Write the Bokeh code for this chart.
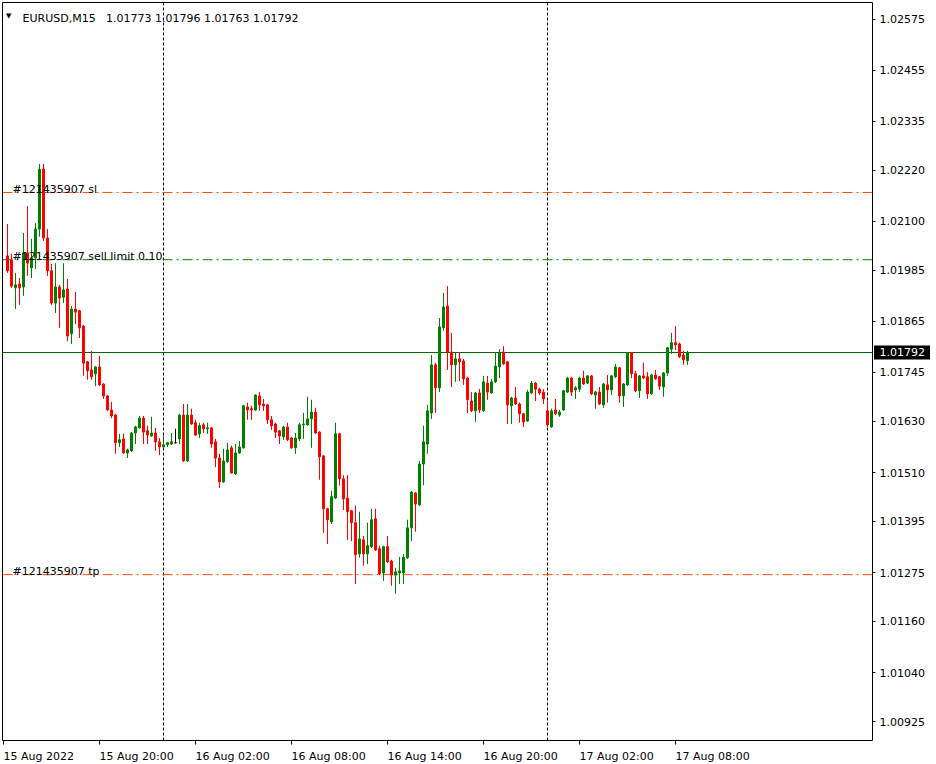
import pandas as pd
from bokeh.plotting import figure
from bokeh.models import (Range1d, FixedTicker, NumeralTickFormatter, Label, LinearAxis,
                          ColumnDataSource)
from bokeh.embed import file_html
from bokeh.resources import INLINE

# ---------------- data ----------------
symbol = "EURUSD"
timeframe = "M15"
first_bar_time = "2022-08-15 14:15"
bar_freq = "15min"

opens = [1.02019, 1.02009, 1.01944, 1.01953, 1.01946, 1.02026, 1.01991, 1.02014, 1.02082, 1.02223,
         1.02061, 1.01984, 1.01908, 1.01946, 1.01922, 1.01941, 1.01836, 1.01894, 1.01890, 1.01854,
         1.01770, 1.01751, 1.01742, 1.01758, 1.01718, 1.01690, 1.01657, 1.01645, 1.01580, 1.01589,
         1.01556, 1.01561, 1.01603, 1.01615, 1.01638, 1.01608, 1.01596, 1.01603, 1.01582, 1.01570,
         1.01575, 1.01577, 1.01580, 1.01589, 1.01645, 1.01537, 1.01645, 1.01627, 1.01601, 1.01622,
         1.01613, 1.01615, 1.01582, 1.01544, 1.01488, 1.01535, 1.01568, 1.01507, 1.01556, 1.01568,
         1.01664, 1.01660, 1.01657, 1.01690, 1.01671, 1.01669, 1.01634, 1.01624, 1.01608, 1.01594,
         1.01617, 1.01591, 1.01568, 1.01589, 1.01622, 1.01622, 1.01636, 1.01652, 1.01605, 1.01549,
         1.01425, 1.01394, 1.01450, 1.01601, 1.01495, 1.01450, 1.01420, 1.01392, 1.01319, 1.01352,
         1.01319, 1.01336, 1.01401, 1.01331, 1.01274, 1.01336, 1.01302, 1.01269, 1.01274, 1.01274,
         1.01310, 1.01380, 1.01462, 1.01434, 1.01530, 1.01577, 1.01650, 1.01763, 1.01709, 1.01850,
         1.01901, 1.01793, 1.01763, 1.01777, 1.01772, 1.01732, 1.01678, 1.01655, 1.01697, 1.01655,
         1.01720, 1.01697, 1.01723, 1.01758, 1.01793, 1.01770, 1.01667, 1.01685, 1.01671, 1.01648,
         1.01631, 1.01697, 1.01720, 1.01706, 1.01699, 1.01655, 1.01617, 1.01657, 1.01645, 1.01657,
         1.01699, 1.01732, 1.01704, 1.01706, 1.01732, 1.01720, 1.01737, 1.01692, 1.01699, 1.01669,
         1.01716, 1.01704, 1.01735, 1.01756, 1.01690, 1.01716, 1.01791, 1.01742, 1.01702, 1.01737,
         1.01735, 1.01695, 1.01739, 1.01735, 1.01711, 1.01744, 1.01800, 1.01815, 1.01812, 1.01786,
         1.01773]
highs = [1.02094, 1.02024, 1.01979, 1.01967, 1.02073, 1.02136, 1.02059, 1.02096, 1.02235, 1.02235,
         1.02082, 1.02000, 1.02002, 1.01951, 1.02002, 1.01965, 1.01901, 1.01934, 1.01892, 1.01857,
         1.01772, 1.01796, 1.01760, 1.01784, 1.01720, 1.01692, 1.01676, 1.01648, 1.01601, 1.01601,
         1.01566, 1.01605, 1.01620, 1.01643, 1.01643, 1.01620, 1.01641, 1.01615, 1.01591, 1.01598,
         1.01582, 1.01603, 1.01613, 1.01648, 1.01671, 1.01671, 1.01660, 1.01634, 1.01627, 1.01627,
         1.01627, 1.01617, 1.01589, 1.01554, 1.01566, 1.01580, 1.01573, 1.01577, 1.01584, 1.01669,
         1.01674, 1.01667, 1.01694, 1.01699, 1.01683, 1.01671, 1.01643, 1.01627, 1.01610, 1.01620,
         1.01627, 1.01594, 1.01603, 1.01627, 1.01650, 1.01688, 1.01681, 1.01662, 1.01607, 1.01551,
         1.01427, 1.01467, 1.01627, 1.01603, 1.01504, 1.01504, 1.01422, 1.01432, 1.01418, 1.01361,
         1.01392, 1.01425, 1.01425, 1.01338, 1.01338, 1.01361, 1.01305, 1.01286, 1.01312, 1.01319,
         1.01399, 1.01467, 1.01464, 1.01537, 1.01620, 1.01669, 1.01786, 1.01768, 1.01873, 1.01932,
         1.01948, 1.01838, 1.01793, 1.01793, 1.01777, 1.01735, 1.01699, 1.01699, 1.01706, 1.01737,
         1.01737, 1.01730, 1.01793, 1.01800, 1.01807, 1.01772, 1.01688, 1.01711, 1.01674, 1.01650,
         1.01704, 1.01725, 1.01723, 1.01709, 1.01706, 1.01678, 1.01660, 1.01683, 1.01657, 1.01704,
         1.01735, 1.01735, 1.01713, 1.01735, 1.01749, 1.01739, 1.01739, 1.01702, 1.01711, 1.01720,
         1.01739, 1.01739, 1.01765, 1.01758, 1.01720, 1.01793, 1.01793, 1.01749, 1.01739, 1.01768,
         1.01746, 1.01742, 1.01751, 1.01737, 1.01746, 1.01805, 1.01838, 1.01854, 1.01815, 1.01796,
         1.01796]
lows = [1.01979, 1.01944, 1.01894, 1.01904, 1.01925, 1.01972, 1.01967, 1.01988, 1.02064, 1.02054,
        1.01972, 1.01904, 1.01885, 1.01850, 1.01908, 1.01819, 1.01812, 1.01859, 1.01826, 1.01737,
        1.01728, 1.01728, 1.01713, 1.01713, 1.01683, 1.01655, 1.01638, 1.01554, 1.01570, 1.01554,
        1.01544, 1.01558, 1.01577, 1.01613, 1.01577, 1.01577, 1.01594, 1.01561, 1.01551, 1.01566,
        1.01570, 1.01575, 1.01578, 1.01577, 1.01535, 1.01535, 1.01622, 1.01596, 1.01591, 1.01603,
        1.01601, 1.01568, 1.01523, 1.01474, 1.01486, 1.01533, 1.01507, 1.01504, 1.01554, 1.01566,
        1.01634, 1.01634, 1.01655, 1.01655, 1.01655, 1.01624, 1.01610, 1.01591, 1.01577, 1.01587,
        1.01584, 1.01566, 1.01554, 1.01584, 1.01589, 1.01620, 1.01568, 1.01601, 1.01493, 1.01368,
        1.01342, 1.01389, 1.01448, 1.01479, 1.01422, 1.01352, 1.01349, 1.01248, 1.01310, 1.01291,
        1.01295, 1.01333, 1.01326, 1.01269, 1.01255, 1.01298, 1.01244, 1.01225, 1.01248, 1.01248,
        1.01307, 1.01349, 1.01371, 1.01432, 1.01480, 1.01554, 1.01636, 1.01650, 1.01699, 1.01843,
        1.01751, 1.01711, 1.01723, 1.01725, 1.01716, 1.01650, 1.01652, 1.01629, 1.01650, 1.01652,
        1.01681, 1.01695, 1.01720, 1.01732, 1.01763, 1.01624, 1.01624, 1.01669, 1.01627, 1.01617,
        1.01629, 1.01695, 1.01678, 1.01692, 1.01671, 1.01617, 1.01615, 1.01645, 1.01641, 1.01655,
        1.01697, 1.01690, 1.01683, 1.01699, 1.01716, 1.01718, 1.01692, 1.01660, 1.01669, 1.01662,
        1.01674, 1.01692, 1.01732, 1.01674, 1.01664, 1.01713, 1.01732, 1.01699, 1.01685, 1.01730,
        1.01683, 1.01692, 1.01728, 1.01704, 1.01688, 1.01737, 1.01789, 1.01798, 1.01779, 1.01763,
        1.01763]
closes = [1.01984, 1.01948, 1.01951, 1.01944, 1.02026, 1.02002, 1.02014, 1.02082, 1.02223, 1.02061,
          1.01984, 1.01908, 1.01946, 1.01920, 1.01939, 1.01831, 1.01894, 1.01887, 1.01850, 1.01767,
          1.01749, 1.01735, 1.01758, 1.01716, 1.01690, 1.01657, 1.01643, 1.01580, 1.01587, 1.01556,
          1.01563, 1.01603, 1.01617, 1.01638, 1.01605, 1.01598, 1.01603, 1.01582, 1.01570, 1.01575,
          1.01580, 1.01582, 1.01580, 1.01645, 1.01537, 1.01645, 1.01624, 1.01598, 1.01620, 1.01613,
          1.01615, 1.01577, 1.01544, 1.01488, 1.01537, 1.01563, 1.01509, 1.01556, 1.01570, 1.01667,
          1.01657, 1.01657, 1.01692, 1.01669, 1.01667, 1.01634, 1.01620, 1.01605, 1.01596, 1.01617,
          1.01587, 1.01568, 1.01591, 1.01622, 1.01624, 1.01636, 1.01652, 1.01603, 1.01547, 1.01425,
          1.01399, 1.01453, 1.01601, 1.01495, 1.01448, 1.01418, 1.01392, 1.01317, 1.01354, 1.01319,
          1.01338, 1.01399, 1.01328, 1.01272, 1.01336, 1.01300, 1.01269, 1.01277, 1.01279, 1.01310,
          1.01380, 1.01464, 1.01436, 1.01530, 1.01582, 1.01655, 1.01763, 1.01709, 1.01852, 1.01899,
          1.01793, 1.01763, 1.01777, 1.01770, 1.01730, 1.01681, 1.01655, 1.01697, 1.01657, 1.01723,
          1.01699, 1.01723, 1.01760, 1.01791, 1.01765, 1.01669, 1.01685, 1.01671, 1.01648, 1.01629,
          1.01699, 1.01720, 1.01706, 1.01697, 1.01683, 1.01622, 1.01655, 1.01648, 1.01652, 1.01702,
          1.01732, 1.01699, 1.01709, 1.01732, 1.01718, 1.01737, 1.01695, 1.01699, 1.01671, 1.01718,
          1.01704, 1.01737, 1.01758, 1.01690, 1.01718, 1.01791, 1.01742, 1.01702, 1.01737, 1.01732,
          1.01695, 1.01739, 1.01730, 1.01713, 1.01744, 1.01803, 1.01815, 1.01810, 1.01782, 1.01775,
          1.01792]

price_ticks = [1.00925, 1.01040, 1.01160, 1.01275, 1.01395, 1.01510, 1.01630, 1.01745,
               1.01865, 1.01985, 1.02100, 1.02220, 1.02335, 1.02455, 1.02575]
time_ticks = ["2022-08-15 14:00", "2022-08-15 20:00", "2022-08-16 02:00", "2022-08-16 08:00",
              "2022-08-16 14:00", "2022-08-16 20:00", "2022-08-17 02:00", "2022-08-17 08:00"]
time_tick_labels = ["15 Aug 2022", "15 Aug 20:00", "16 Aug 02:00", "16 Aug 08:00",
                    "16 Aug 14:00", "16 Aug 20:00", "17 Aug 02:00", "17 Aug 08:00"]

order_id = "121435907"
sl_price = 1.02168
tp_price = 1.01270
sell_limit_price = 1.02010
sell_limit_volume = "0.10"

# ---------------- layout (page pixels) ----------------
W, H = 936, 764
BAR_PX = 4
FONT = "DejaVu Sans"
FS = "11px"
BULL, BEAR, DOJI = "#008000", "#FF0000", "#000000"
LEVEL_RED = "#FF4500"
LEVEL_GREEN = "#008000"
BID_GREEN = "#006400"

# chart box on the page (integer px; the canvas adds a half-pixel shift)
BOX_L, BOX_T, BOX_R, BOX_B = 2, 2, 872, 740
BAR0_PX = 3.0          # page x of the bar before the first one
Y_TOP, Y_BOT = 1.02619, 1.00824   # prices at page top / bottom


def dx(px):
    return (px - BAR0_PX) / BAR_PX


def dy(py):
    return Y_TOP - py * (Y_TOP - Y_BOT) / H


def dh(npx):
    return npx * (Y_TOP - Y_BOT) / H


times = pd.date_range(first_bar_time, periods=len(opens), freq=bar_freq)
step = pd.Timedelta(bar_freq)
origin = times[0] - step
xs = [(t - origin) / step for t in times]
tick_x = [(pd.Timestamp(t) - origin) / step for t in time_ticks]
sep_x = [(t - origin) / step for t in times if t.hour == 0 and t.minute == 0]

p = figure(frame_width=W, frame_height=H,
           x_range=Range1d(dx(0), dx(W)), y_range=Range1d(dy(H), dy(0)),
           x_axis_location=None, y_axis_location=None,
           output_backend="svg", toolbar_location=None,
           min_border_left=0, min_border_top=0, min_border_right=0, min_border_bottom=0,
           background_fill_color="white", border_fill_color="white")
p.outline_line_color = None
p.grid.visible = False

# price axis, fixed on the right edge of the chart box
ya = LinearAxis(fixed_location=dx(BOX_R))
ya.ticker = FixedTicker(ticks=price_ticks)
ya.formatter = NumeralTickFormatter(format="0.00000")
ya.axis_line_color = None
ya.major_tick_line_color = "black"
ya.major_tick_out = 3
ya.major_tick_in = 0
ya.minor_tick_out = 0
ya.minor_tick_in = 0
ya.major_label_standoff = 4
ya.major_label_text_font = FONT
ya.major_label_text_font_size = FS
ya.major_label_text_color = "black"
p.add_layout(ya, "right")

# time axis ticks, fixed on the bottom edge of the chart box
xa = LinearAxis(fixed_location=dy(BOX_B))
xa.ticker = FixedTicker(ticks=tick_x)
xa.axis_line_color = None
xa.major_tick_line_color = "black"
xa.major_tick_out = 4
xa.major_tick_in = 0
xa.minor_tick_out = 0
xa.minor_tick_in = 0
xa.major_label_text_color = None
xa.major_label_text_font_size = "0px"
xa.major_label_standoff = 0
p.add_layout(xa, "below")

# period separators
p.segment(x0=sep_x, x1=sep_x, y0=[dy(BOX_T)] * len(sep_x), y1=[dy(BOX_B)] * len(sep_x),
          line_color="black", line_dash="3 2", line_width=1)

# order levels
levels = [sl_price, sell_limit_price, tp_price]
level_cols = [LEVEL_RED, LEVEL_GREEN, LEVEL_RED]
p.segment(x0=[dx(BOX_L)] * 3, x1=[dx(BOX_R)] * 3, y0=levels, y1=levels,
          line_color=level_cols, line_dash="10 4 2 4", line_width=1)

# bid line
p.segment(x0=[dx(BOX_L)], x1=[dx(BOX_R)], y0=[closes[-1]], y1=[closes[-1]],
          line_color=BID_GREEN, line_width=1)

# candles
colors = [BULL if c > o else (BEAR if c < o else DOJI) for o, c in zip(opens, closes)]
src = ColumnDataSource(dict(
    x=xs, high=highs, low=lows,
    top=[max(o, c) for o, c in zip(opens, closes)],
    bottom=[min(o, c) for o, c in zip(opens, closes)],
    color=colors))
p.segment(x0="x", y0="high", x1="x", y1="low", source=src, line_color="color", line_width=1)
p.vbar(x="x", width=0.5, top="top", bottom="bottom", source=src,
       fill_color="color", line_color="color", line_width=1)

# chart box border
p.quad(left=[dx(BOX_L)], right=[dx(BOX_R)], top=[dy(BOX_T)], bottom=[dy(BOX_B)],
       fill_color=None, line_color="black", line_width=1)

# current price tag on the price axis
p.quad(left=[dx(873.5)], right=[dx(929.5)], top=[closes[-1] + dh(7)],
       bottom=[closes[-1] - dh(7)], fill_color="black", line_color=None)
p.add_layout(Label(x=dx(879), y=closes[-1], text=f"{closes[-1]:.5f}", text_font=FONT,
                   text_font_size=FS, text_color="white", text_align="left",
                   text_baseline="middle"))

# order labels
for txt, lvl in [(f"#{order_id} sl", sl_price),
                 (f"#{order_id} sell limit {sell_limit_volume}", sell_limit_price),
                 (f"#{order_id} tp", tp_price)]:
    p.add_layout(Label(x=dx(12), y=lvl, y_offset=3, text=txt, text_font=FONT,
                       text_font_size=FS, text_color="black", text_align="left",
                       text_baseline="alphabetic"))

# title
p.add_layout(Label(x=dx(5.5), y=dy(15), text="\u25BC", text_font=FONT,
                   text_font_size="7px", text_color="black", text_align="left",
                   text_baseline="alphabetic"))
title = (f"{symbol},{timeframe} \u00a0 {opens[-1]:.5f} {highs[-1]:.5f} "
         f"{lows[-1]:.5f} {closes[-1]:.5f}")
p.add_layout(Label(x=dx(22), y=dy(17.5), text=title, text_font=FONT,
                   text_font_size=FS, text_color="black", text_align="left",
                   text_baseline="alphabetic"))

# time labels, left aligned at their ticks
for tx, lab in zip(tick_x, time_tick_labels):
    p.add_layout(Label(x=tx, y=dy(756), text=lab, text_font=FONT,
                       text_font_size=FS, text_color="black", text_align="left",
                       text_baseline="alphabetic"))

open("out.html", "w").write(file_html(p, INLINE))
